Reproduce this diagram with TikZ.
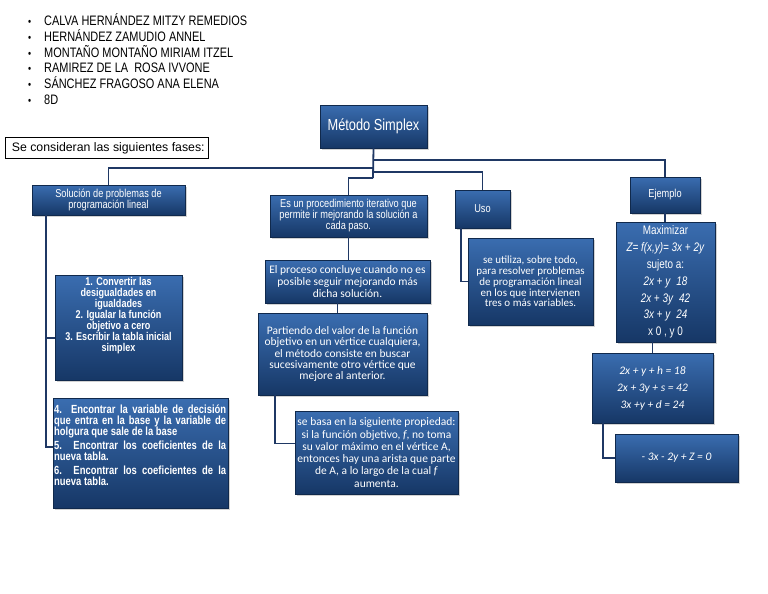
\documentclass[tikz,border=0pt]{standalone}
\usepackage{fontspec}
\setmainfont{Liberation Sans}
\newfontfamily\nar[FakeStretch=0.8]{Liberation Sans}
\newfontfamily\narb[FakeStretch=0.8]{Liberation Sans Bold}
\newfontfamily\calf{Carlito}
\usetikzlibrary{shadows}
\definecolor{boxtop}{HTML}{3A6DB0}
\definecolor{boxbot}{HTML}{163766}
\definecolor{boxline}{HTML}{10294C}
\definecolor{linkcol}{HTML}{1F3864}
\newcommand\hbul{\makebox[16pt][l]{\fontsize{11}{11}\selectfont\textbullet}}
\newcommand\jl[1]{\makebox[172pt][s]{#1}}
\begin{document}
\begin{tikzpicture}[x=1pt,y=-1pt,
  bx/.style={draw=boxline, line width=0.6pt, top color=boxtop, bottom color=boxbot,
    text=white, inner sep=0pt, outer sep=0pt, anchor=north west, align=center,
    drop shadow={shadow xshift=1.6pt, shadow yshift=-1.8pt, opacity=0.35}},
  link/.style={draw=linkcol, line width=1.8pt},
  hdr/.style={anchor=base west, inner sep=0pt, font=\nar\fontsize{13.7}{15}\selectfont},
  wtxt/.style={text=white, inner sep=0pt, align=center},
  nf/.style={font=\nar\fontsize{11.5}{11}\selectfont},
  cf/.style={font=\calf\fontsize{11.5}{12}\selectfont},
  boldf/.style={font=\narb\fontsize{11.3}{11}\selectfont},
]
\useasboundingbox (0,0) rectangle (768,594);
\fill[white] (0,0) rectangle (768,594);

% header list
\node[hdr] (h1) at (28,26) {\hbul CALVA HERNÁNDEZ MITZY REMEDIOS};
\node[hdr] (h2) at (28,41.6) {\hbul HERNÁNDEZ ZAMUDIO ANNEL};
\node[hdr] (h3) at (28,57.2) {\hbul MONTAÑO MONTAÑO MIRIAM ITZEL};
\node[hdr] (h4) at (28,72.8) {\hbul RAMIREZ DE LA\ \ ROSA IVVONE};
\node[hdr] (h5) at (28,88.4) {\hbul SÁNCHEZ FRAGOSO ANA ELENA};
\node[hdr] (h6) at (28,104) {\hbul 8D};

% note box
\node[draw=black, line width=0.7pt, fill=white, anchor=north west, inner sep=0pt,
  minimum width=203pt, minimum height=21pt, font=\fontsize{12.3}{14}\selectfont]
  (S) at (5,137) {\makebox[190pt][l]{Se consideran las siguientes fases:}};

% boxes
\node[bx, minimum width=107pt, minimum height=43pt, font=\nar\fontsize{16}{19}\selectfont]
  (T) at (320,105) {Método Simplex};
\node[bx, nf, minimum width=153pt, minimum height=30pt] (Sol) at (32,185)
  {Solución de problemas de\\programación lineal};
\node[bx, nf, minimum width=157pt, minimum height=42pt] (Es) at (270,195)
  {Es un procedimiento iterativo que\\permite ir mejorando la solución a\\cada paso.};
\node[bx, nf, minimum width=55pt, minimum height=38pt] (Uso) at (455,190) {Uso};
\node[bx, nf, minimum width=70pt, minimum height=36pt] (Ej) at (630,177) {Ejemplo};
\node[bx, cf, minimum width=165pt, minimum height=43pt] (Proc) at (265,260)
  {El proceso concluye cuando no es\\posible seguir mejorando más\\dicha solución.};
\node[bx, font=\calf\fontsize{11.5}{11.3}\selectfont, minimum width=169pt, minimum height=82pt] (Part) at (258,313)
  {Partiendo del valor de la función\\objetivo en un vértice cualquiera,\\el método consiste en buscar\\sucesivamente otro vértice que\\mejore al anterior.};
\node[bx, font=\calf\fontsize{11.5}{12.3}\selectfont, minimum width=163pt, minimum height=83pt] (Basa) at (295,411)
  {se basa en la siguiente propiedad:\\si la función objetivo, \textit{f}, no toma\\su valor máximo en el vértice A,\\entonces hay una arista que parte\\de A, a lo largo de la cual \textit{f}\\aumenta.};
\node[bx, font=\calf\fontsize{11}{10.8}\selectfont, minimum width=125pt, minimum height=87pt] (Util) at (468,238)
  {se utiliza, sobre todo,\\para resolver problemas\\de programación lineal\\en los que intervienen\\tres o más variables.};
\node[bx, font=\nar\fontsize{12.4}{16.8}\selectfont, minimum width=99pt, minimum height=120pt] (Max) at (616,222)
  {Maximizar\\\textit{Z= f(x,y)= 3x + 2y}\\sujeto a:\\\textit{2x + y\enspace 18}\\\textit{2x + 3y\enspace 42}\\\textit{3x + y\enspace 24}\\x 0 , y 0};
\node[bx, font=\calf\itshape\fontsize{11.5}{17}\selectfont, minimum width=121pt, minimum height=70pt] (Eq) at (592,353)
  {2x + y + h = 18\\2x + 3y + s = 42\\3x +y + d = 24};
\node[bx, font=\calf\itshape\fontsize{11.5}{13}\selectfont, minimum width=123pt, minimum height=48pt] (Z0) at (615,434)
  {- 3x - 2y + Z = 0};
\node[bx, minimum width=127pt, minimum height=105pt] (B1) at (55,275) {};
\node[wtxt, boldf] (B1t) at (118.5,316)
  {1. Convertir las\\desigualdades en\\igualdades\\2. Igualar la función\\objetivo a cero\\3. Escribir la tabla inicial\\simplex};
\node[bx, minimum width=175pt, minimum height=110pt] (B4) at (53,398) {};
\node[wtxt, align=left, anchor=west, font=\narb\fontsize{11.8}{10.5}\selectfont] (B4t) at (54,445)
  {\jl{4. Encontrar la variable de decisión}\\\jl{que entra en la base y la variable de}\\holgura que sale de la base\\[1.5pt]
   \jl{5. Encontrar los coeficientes de la}\\nueva tabla.\\[4pt]
   \jl{6. Encontrar los coeficientes de la}\\nueva tabla.};

% connectors
\coordinate (b1) at (373,160);
\coordinate (b2) at (373,168);
\coordinate (b3) at (373,172);
\coordinate (b4) at (373,178);
\draw[link] (T.south) -- (b4);
\draw[link] (b1) -| (Ej.north);
\draw[link] (b2) -| (Sol.north);
\draw[link] (b3) -| (Uso.north);
\draw[link] (b4) -| (Es.north);
\draw[link] (Es.south) -- (Es.south |- Proc.north);
\draw[link] ([xshift=-10pt]Proc.south) -- ([xshift=-10pt]Proc.south |- Part.north);
\draw[link] ([xshift=17pt]Part.south west) |- ([yshift=9pt]Basa.west);
\draw[link] ([xshift=6pt]Uso.south west) |- (Util.west);
\draw[link] (Ej.south) -- (Ej.south |- Max.north);
\draw[link] (Eq.north) -- (Eq.north |- Max.south);
\draw[link] ([xshift=11pt]Eq.south west) |- (Z0.west);
\draw[link] ([xshift=14pt]Sol.south west) |- ([yshift=-10.5pt]B1.west);
\draw[link] ([xshift=14pt]Sol.south west) |- ([yshift=6pt]B4.west);
\end{tikzpicture}
\end{document}
